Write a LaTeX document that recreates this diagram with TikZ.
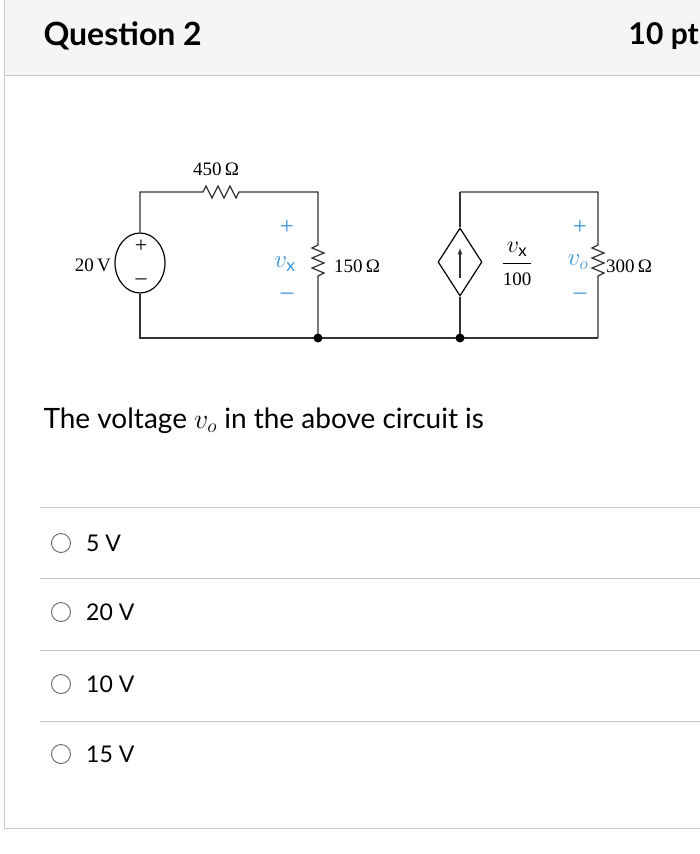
\RequirePackage{fix-cm}
\documentclass[tikz,border=0pt]{standalone}
\usetikzlibrary{shapes.geometric}
\usepackage{fontspec}
\setmainfont{Lato}
\newfontfamily\ser{Liberation Serif}
\definecolor{bl}{RGB}{60,150,215}
\definecolor{hd}{RGB}{245,245,245}
\definecolor{ln}{RGB}{200,200,200}
\begin{document}
\begin{tikzpicture}[x=1pt,y=-1pt,
  w/.style={line width=1.2pt,black!80},
  lab/.style={font=\ser\fontsize{19}{19}\selectfont,inner sep=1pt},
  sg/.style={font=\ser\fontsize{25}{25}\selectfont,text=bl,inner sep=0pt},
  opt/.style={font=\fontsize{23}{23}\selectfont,anchor=west,inner sep=0pt},
  dot/.style={circle,fill=black,inner sep=0pt,minimum size=9pt}]
\useasboundingbox (0,0) rectangle (700,854);
\fill[hd] (4,0) rectangle (700,75);
\draw[ln] (4,75) -- (700,75);
\draw[ln] (4,0) -- (4,828) -- (700,828);
\node[anchor=west,font=\bfseries\fontsize{32}{32}\selectfont] (q) at (40,36) {Question 2};
\node[anchor=east,font=\bfseries\fontsize{30}{30}\selectfont,inner sep=0pt] (p) at (699,36) {10 pt};
% circuit
\coordinate (tm) at (318,192); \coordinate (bm) at (318,338);
\coordinate (td) at (460,192); \coordinate (bd) at (460,338);
\coordinate (tr) at (598,192); \coordinate (br) at (598,338);
\node[ellipse,draw,line width=1.2pt,minimum width=50pt,minimum height=60pt,inner sep=0pt] (vs) at (140,263) {};
\node[font=\ser\fontsize{22}{22}\selectfont] at (141,246) {+};
\node[font=\ser\fontsize{22}{22}\selectfont] at (141,282) {–};
\node[lab,anchor=east] (v20) at (112,265) {20\,V};
\draw[w] (vs.north) -- (140,192) -- (203,192) -- (206,186) -- (212,198) -- (218,186) -- (224,198) -- (230,186) -- (236,198) -- (239,192) -- (tm) -- (318,245) -- (312,248) -- (324,253) -- (312,258) -- (324,263) -- (312,268) -- (324,273) -- (318,276) -- (bm);
\node[lab] (r450) at (216,169) {450\,Ω};
\node[lab,anchor=west] (r150) at (333,266) {150\,Ω};
\draw[w] (vs.south) -- (140,338) -- (br);
\node[diamond,draw,line width=1.2pt,minimum width=44pt,minimum height=68pt,inner sep=0pt] (cs) at (460,262) {};
\draw[w] (td) -- (cs.north); \draw[w] (cs.south) -- (bd);
\draw[w,-latex] (460,278) -- (460,248);
\draw[w] (td) -- (tr) -- (598,245) -- (592,248) -- (604,253) -- (592,258) -- (604,263) -- (592,268) -- (604,273) -- (598,276) -- (br);
\node[lab,anchor=west] (r300) at (605,266) {300\,Ω};
\node[dot] (d1) at (bm) {}; \node[dot] (d2) at (bd) {};
\node[font=\ser\fontsize{24}{24}\selectfont,inner sep=1pt] (fr) at (517,264) {$\displaystyle\frac{v_{\mathrm{x}}}{\hbox{\fontsize{19}{19}\selectfont 100}}$};
\node[sg] at (287,227) {+}; \node[sg] at (285,264) {$v_{\mathrm x}$}; \node[sg] at (287,296) {–};
\node[sg] at (580,227) {+}; \node[sg] at (578,262) {$v_o$}; \node[sg] at (580,296) {–};
% question
\node[anchor=west,font=\fontsize{28}{28}\selectfont] (t) at (40,421) {The voltage $v_o$ in the above circuit is};
\foreach \y in {507,578,650,721} \draw[ln] (40,\y) -- (700,\y);
\foreach \y/\t in {543/5 V,612/20 V,684/10 V,754/15 V}{
  \draw[black!60,line width=0.9pt] (61,\y) circle (9.5);
  \node[opt] at (86,\y) {\t};
}
\end{tikzpicture}
\end{document}
